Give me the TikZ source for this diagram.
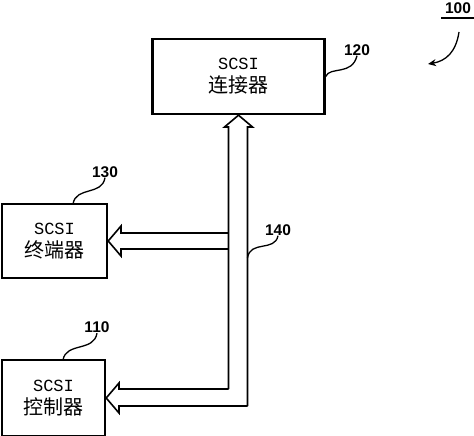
\documentclass[tikz,border=0pt]{standalone}
\usepackage{fontspec}
\newfontfamily\cjk{Noto Sans CJK SC}
\newfontfamily\mono{Liberation Mono}
\newfontfamily\lbl{Liberation Sans}
\usetikzlibrary{arrows.meta}

\newcommand{\twoline}[2]{{\mono #1}\\{\cjk\fontsize{20}{23}\selectfont #2}}

\begin{document}
\begin{tikzpicture}[x=1pt, y=-1pt,
    blk/.style={draw, line width=2.4pt, align=center, inner sep=0pt,
                font=\fontsize{17}{23}\selectfont},
    bus/.style={line width=1.6pt, line join=miter},
    lead/.style={line width=1.3pt},
    num/.style={font=\lbl\bfseries\fontsize{15.5}{15.5}\selectfont, inner sep=0pt}]

    \useasboundingbox (0,0) rectangle (474,436);

    % Blocks
    \node[blk, minimum width=172pt, minimum height=75pt] (conn) at (238.5,76.5) {\twoline{SCSI}{连接器}};
    \node[blk, minimum width=105pt, minimum height=74pt] (term) at (54.5,241) {\twoline{SCSI}{终端器}};
    \node[blk, minimum width=103pt, minimum height=76pt] (ctrl) at (53.5,398) {\twoline{SCSI}{控制器}};

    % Reference numerals
    \node[num] (n100) at (458,8.5) {100};
    \node[num] (n120) at (357,50) {120};
    \node[num] (n130) at (105,172) {130};
    \node[num] (n110) at (97,327.5) {110};
    \node[num] (n140) at (278,230) {140};

    % Bus to connector
    \draw[bus] (228.5,389) -- (228.5,127) -- (224.5,127) -- (conn.south) -- (252.5,127) -- (247.5,127) -- (247.5,406);

    % Bus to terminator
    \draw[bus] (228.5,233) -- (121,233) -- (121,226) -- (term.east) -- (121,256) -- (121,249) -- (228.5,249);

    % Bus to controller
    \draw[bus] (228.5,389) -- (119,389) -- (119,383) -- (ctrl.east) -- (119,413) -- (119,406) -- (247.5,406);

    % Leaders
    \draw[lead] (conn.east) .. controls (330,66) and (352,76) .. (n120.south);
    \draw[lead] (73,204) .. controls (76,186) and (102,196) .. (n130.south);
    \draw[lead] (63,360) .. controls (66,342) and (94,352) .. (n110.south);
    \draw[lead] (247.5,258) .. controls (250,240) and (275,252) .. (n140.south);

    % Overall reference
    \draw[line width=1.2pt] (441,18) -- (474,18);
    \draw[lead, -{Stealth[length=8pt, width=7pt]}] (459,32) .. controls (456,52) and (446,61) .. (428,64);

\end{tikzpicture}
\end{document}
